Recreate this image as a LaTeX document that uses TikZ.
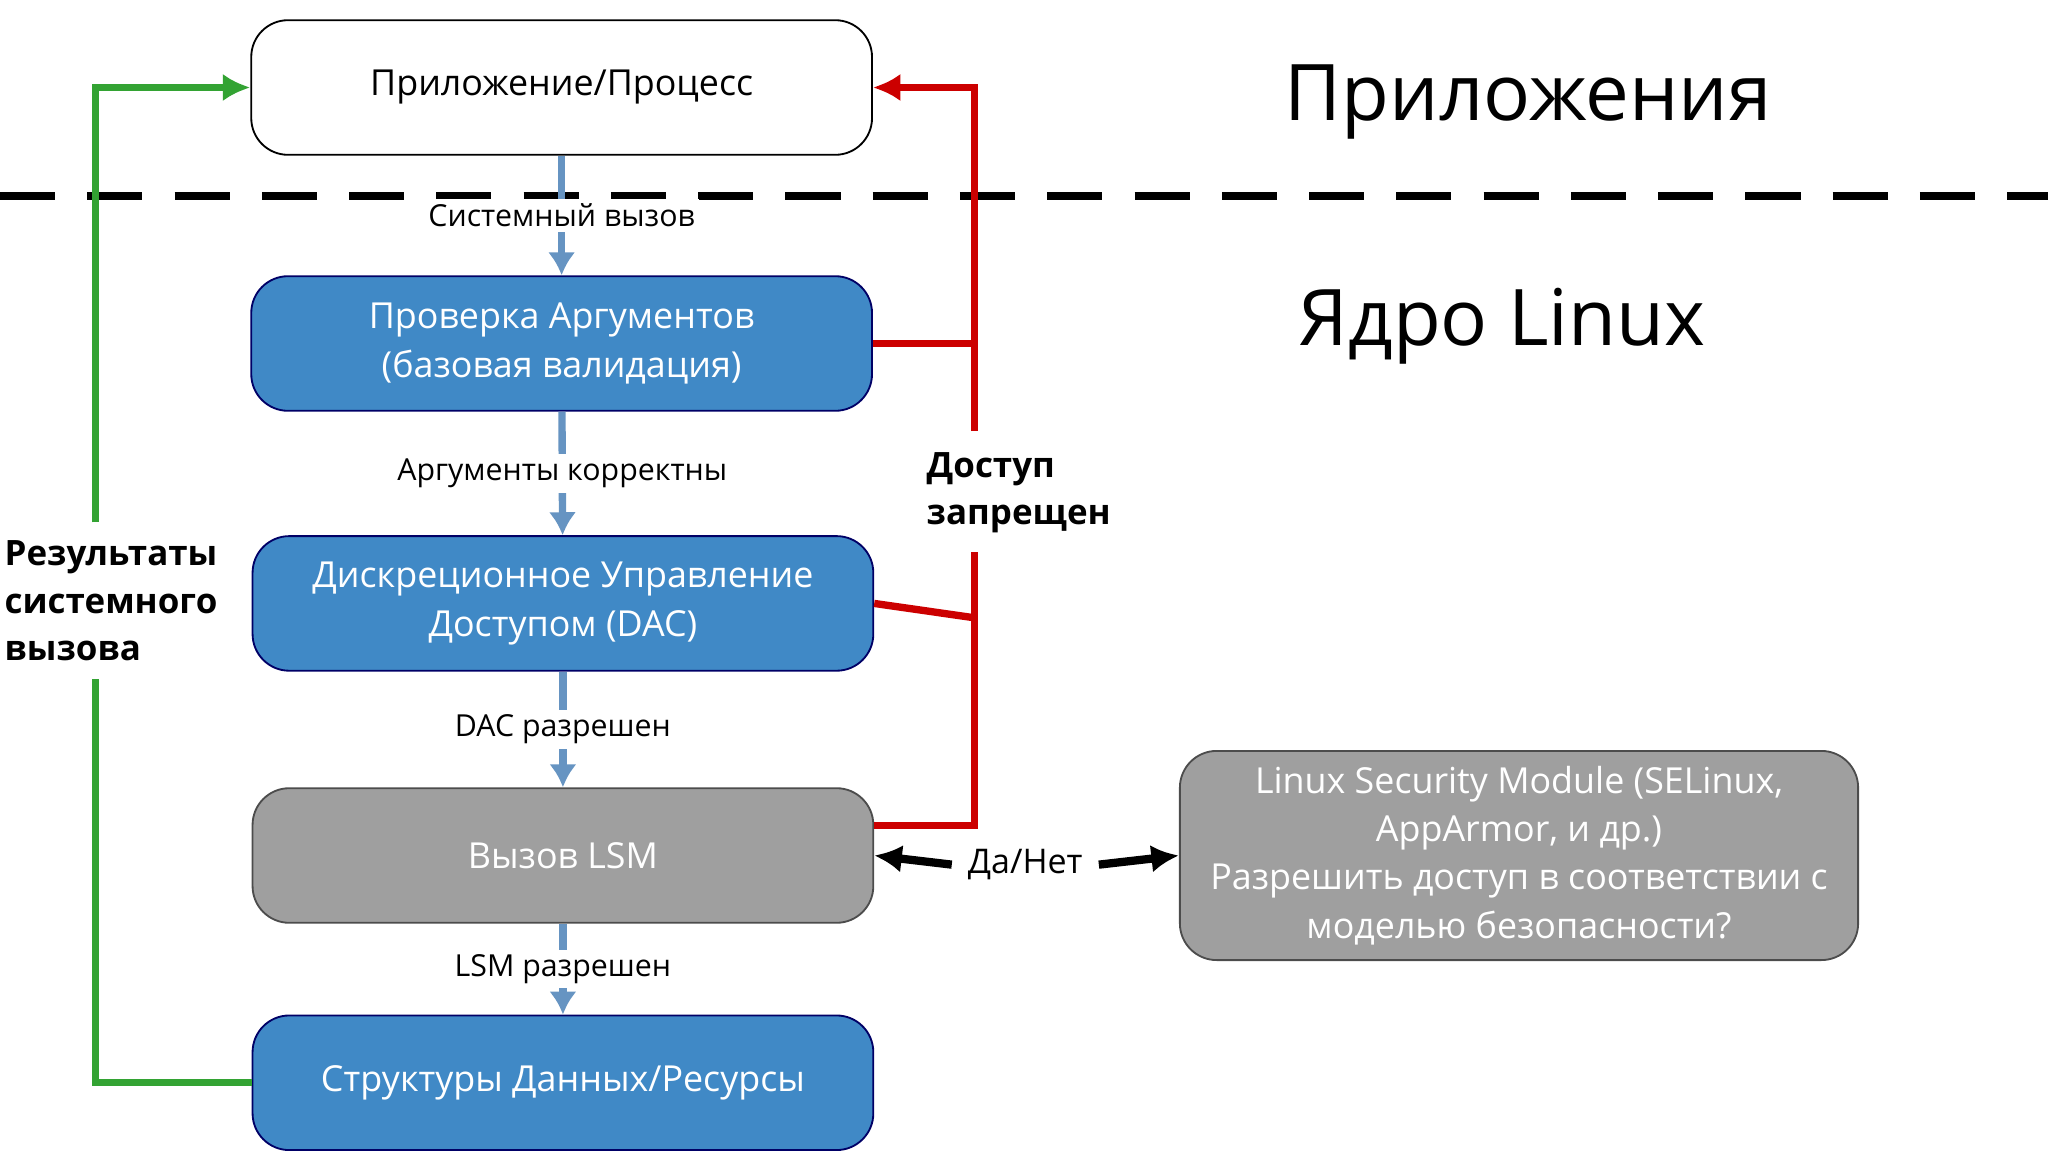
\documentclass[tikz,border=0pt]{standalone}
\usepackage{fontspec}
\setmainfont{Open Sans}
\usetikzlibrary{positioning,arrows.meta}

\tikzset{
  box/.style={draw, rounded corners=8pt, minimum width=4.75cm, minimum height=1.03cm, align=center, font=\fontsize{7.8}{10.5}\selectfont},
  bluebox/.style={box, fill=blue!50!cyan!55!black!70, draw=blue!40!black, text=white},
  graybox/.style={box, fill=gray!75, draw=gray!60!black, text=white},
  lbl/.style={font=\fontsize{6.6}{8}\selectfont, fill=white, inner sep=1pt},
  side/.style={font=\bfseries\fontsize{7.6}{10.3}\selectfont, align=left},
  flow/.style={draw=blue!50!cyan!60!black!60, line width=1.6pt, -{Latex[length=5pt,width=6pt]}},
}
\colorlet{boxblue}{blue!45!cyan!70!black!75}

\begin{document}
\begin{tikzpicture}[x=0.01cm, y=-0.01cm]
\useasboundingbox (0,0) rectangle (1568,882);

% boxes
\node[box, fill=white, draw=black] (app) at (430,67) {Приложение/Процесс};
\node[bluebox, fill=boxblue] (args) at (430,263) {Проверка Аргументов\\(базовая валидация)};
\node[bluebox, fill=boxblue] (dac) at (431,462) {Дискреционное Управление\\Доступом (DAC)};
\node[graybox, fill=gray!75] (lsm) at (431,655) {Вызов LSM};
\node[bluebox, fill=boxblue] (res) at (431,829) {Структуры Данных/Ресурсы};
\node[graybox, fill=gray!75, minimum width=5.19cm, minimum height=1.52cm] (mod) at (1163,655)
  {Linux Security Module (SELinux,\\AppArmor, и др.)\\Разрешить доступ в соответствии с\\моделью безопасности?};

% titles
\node[font=\fontsize{17}{20}\selectfont] (user) at (1170,78) {Приложения};
\node[font=\fontsize{17}{20}\selectfont] (kern) at (1150,250) {Ядро Linux};

% border user/kernel
\draw[dashed, line width=1.6pt, dash pattern=on 12pt off 7pt] (0,150) -- (1568,150);

% vertical flow
\draw[flow] (app) -- node[lbl] {Системный вызов} (args);
\draw[flow] (args) -- node[lbl] {Аргументы корректны} (dac);
\draw[flow] (dac) -- node[lbl] {DAC разрешен} (lsm);
\draw[flow] (lsm) -- node[lbl] {LSM разрешен} (res);

% denied
\node[side] (deny) at (780,377) {Доступ\\запрещен};
\coordinate (rtop) at (746,67);
\draw[red!80!black, line width=1.6pt] (args.east) -- (746,263);
\draw[red!80!black, line width=1.6pt] (dac.east) -- (746,473);
\draw[red!80!black, line width=1.6pt, -{Latex[length=6pt,width=6pt]}]
  (lsm.east |- 0,632) -- (746,632) -- (746,423) (746,330) -- (rtop) -- (app.east);

% result
\node[side] (result) at (85,460) {Результаты\\системного\\вызова};
\draw[green!55!black!80, line width=1.6pt, -{Latex[length=6pt,width=6pt]}]
  (res.west) -- (73,829) -- (73,520) (73,400) -- (73,67) -- (app.west);

% yes/no
\node[font=\fontsize{7.4}{9}\selectfont] (yn) at (785,662) {Да/Нет};
\draw[line width=1.8pt, -{Latex[length=6pt,width=6pt]}] (yn.west) -- (lsm.east);
\draw[line width=1.8pt, -{Latex[length=6pt,width=6pt]}] (yn.east) -- (mod.west);
\end{tikzpicture}
\end{document}
